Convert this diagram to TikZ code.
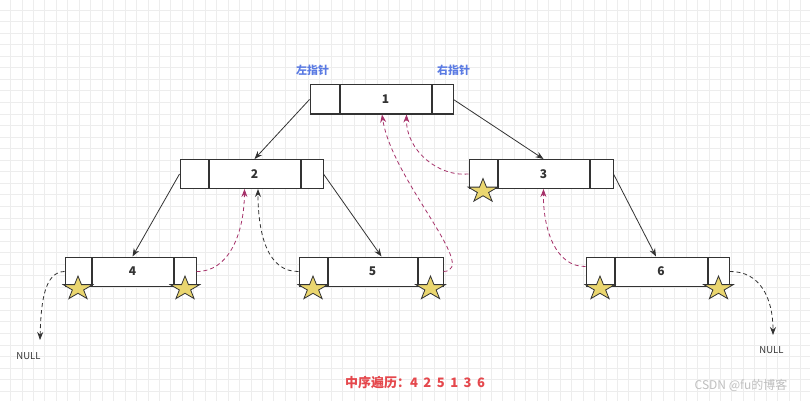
\documentclass[tikz,border=0pt]{standalone}
\usepackage{fontspec}
\setmainfont{Noto Sans CJK SC}
\usetikzlibrary{positioning,arrows.meta}
\definecolor{borde}{HTML}{333333}
\definecolor{rosa}{HTML}{A6326A}
\definecolor{azul}{HTML}{5B7BE3}
\definecolor{rojo}{HTML}{E5484D}
\definecolor{amarillo}{HTML}{EAD66F}
\begin{document}
\begin{tikzpicture}[x=1pt, y=-1pt,
    rejilla/.style={draw=black!7, line width=0.8pt},
    celda/.style={draw=borde, line width=1pt, fill=white, minimum height=29pt, inner sep=0pt,
                  font=\fontsize{12}{14}\selectfont\bfseries, text=borde},
    arista/.style={draw=borde, line width=0.8pt, -{Stealth[length=8pt,width=6pt]}},
    hilonegro/.style={draw=borde, line width=0.8pt, dash pattern=on 4pt off 3pt, -{Stealth[length=8pt,width=6pt]}},
    hilorosa/.style={draw=rosa, line width=0.8pt, dash pattern=on 4pt off 3pt, -{Stealth[length=8pt,width=6pt]}},
    estrella/.style={draw=borde, fill=amarillo, line width=0.8pt, line join=miter},
    etiqueta/.style={text=azul, font=\fontsize{11}{13}\selectfont\bfseries, inner sep=0pt},
    nulo/.style={text=borde, font=\fontsize{9.5}{11}\selectfont, inner sep=0pt}]
  % Fondo y rejilla
  \useasboundingbox (0,0) rectangle (810,401);
  \fill[white] (0,0) rectangle (810,401);
  \foreach \i in {0,...,70} {
    \draw[rejilla] (10.5+11.45*\i,0) -- (10.5+11.45*\i,401);
  }
  \foreach \j in {0,...,34} {
    \draw[rejilla] (0,10+11.55*\j) -- (810,10+11.55*\j);
  }

  % Nodos del arbol: puntero izquierdo, dato, puntero derecho
  \foreach \n/\x/\y/\w/\a/\b in {1/385.5/99.5/91/29/21, 2/254.5/174/91/28/22,
                                 3/543.5/174/91/28/23, 4/132.5/271.5/81/26/22,
                                 5/372.5/271.5/89/28/25, 6/661/271.5/92/28/21} {
    \node[celda, minimum width=\w pt] (n\n) at (\x,\y) {\n};
    \node[celda, minimum width=\a pt, left=0pt of n\n] (l\n) {};
    \node[celda, minimum width=\b pt, right=0pt of n\n] (r\n) {};
  }

  % Etiquetas de los punteros
  \node[etiqueta] (izq) at (312.5,70) {左指针};
  \node[etiqueta] (der) at (453.5,70) {右指针};

  % Aristas del arbol
  \draw[arista] (l1.west) -- (n2.north);
  \draw[arista] (r1.east) -- (n3.north);
  \draw[arista] (l2.west) -- (n4.north);
  \draw[arista] (r2.east) -- ([xshift=9pt]n5.north);
  \draw[arista] (r3.east) -- ([xshift=-5pt]n6.north);

  % Hilos (punteros vacios)
  \coordinate (fin4) at (40,340);
  \coordinate (fin6) at (773,335);
  \node[nulo] (null4) at (28.5,356) {NULL};
  \node[nulo] (null6) at (771.5,350) {NULL};
  \draw[hilonegro] (l4.west) .. controls (45,272) and (41,300) .. (fin4);
  \draw[hilorosa] (r4.east) .. controls (228,272) and (244,235) .. ([xshift=-10pt]n2.south);
  \draw[hilonegro] (l5.west) .. controls (268,272) and (258,235) .. ([xshift=3.5pt]n2.south);
  \draw[hilorosa] (r5.east) .. controls (480,270) and (392,180) .. ([xshift=-3.5pt]n1.south);
  \draw[hilorosa] (l3.west) .. controls (438,177) and (406,150) .. ([xshift=21pt]n1.south);
  \draw[hilorosa] ([yshift=5pt]l6.west) .. controls (556,267) and (543,230) .. (n3.south);
  \draw[hilonegro] (r6.east) .. controls (760,271) and (773,298) .. (fin6);

  % Estrellas en los punteros hilados
  \foreach \c in {l4,r4,l5,r5,l3,l6,r6} {
    \draw[estrella, shift={([yshift=-2pt]\c.south)}]
      plot[samples at={0,...,9}] ({15.5*(1-0.618*mod(\x,2))*cos(90+36*\x)}, {-12.5*(1-0.618*mod(\x,2))*sin(90+36*\x)}) -- cycle;
  }

  % Recorrido en orden
  \node[text=rojo, font=\fontsize{13}{15}\selectfont\bfseries] (inorden) at (415,383) {\spaceskip=5.5pt\relax 中序遍历：4 2 5 1 3 6};
  \node[text=black!25, font=\fontsize{12}{14}\selectfont] (marca) at (741,385) {CSDN @fu的博客};
\end{tikzpicture}
\end{document}
